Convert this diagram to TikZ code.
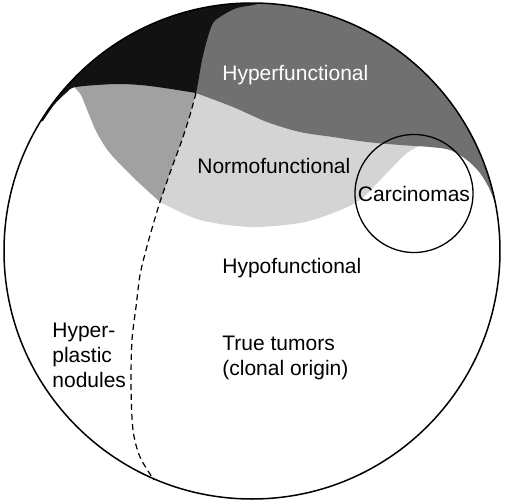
\documentclass[tikz,border=0pt]{standalone}
\usepackage{fontspec}
\setmainfont{Liberation Sans}
\begin{document}
\begin{tikzpicture}[x=0.5pt,y=-0.5pt,
    lbl/.style={anchor=base west,inner sep=0pt,align=left,font=\fontsize{10.5}{12.5}\selectfont},
    split/.style={dash pattern=on 3pt off 2pt,line width=0.6pt}]
  \useasboundingbox (0,0) rectangle (505,504);
  \begin{scope}
    \clip (252,251) circle (248);
    % normofunctional, true tumors
    \fill[black!17] (196,93) -- plot[smooth] coordinates {(196,93) (190,115) (182,140) (171,170) (160,202)}
      -- plot[smooth] coordinates {(160,202) (200,220) (250,227) (300,223) (333,213) (360,200) (383,177) (407,153) (428,142)}
      -- (428,110) -- (196,80) -- cycle;
    % normofunctional, hyperplastic
    \fill[black!37] plot[smooth] coordinates {(75,88) (81,95) (88,112) (96,131) (106,148) (117,161) (137,181) (160,202)}
      -- plot[smooth] coordinates {(160,202) (171,170) (182,140) (190,115) (196,93)}
      -- (196,75) -- (75,75) -- cycle;
    % hyperfunctional, true tumors
    \fill[black!56] plot[smooth] coordinates {(196,93) (233,107) (267,122) (300,132) (333,137) (367,142) (400,145) (430,147) (450,150) (467,160) (480,173) (490,190) (498,212)}
      -- (515,212) -- (515,-10) -- (180,-10) -- cycle;
    % hyperfunctional, hyperplastic
    \fill[black!93] plot[smooth] coordinates {(43,121) (54,105) (66,93) (76,87) (117,84) (150,86) (196,93)}
      -- plot[smooth] coordinates {(196,93) (198,83) (202,60) (207,40) (213,23) (223,15) (237,8) (257,4) (275,-5)}
      -- (0,-10) -- (0,121) -- cycle;
  \end{scope}
  \draw[split] plot[smooth] coordinates {(196,93) (190,115) (182,140) (171,170) (160,202) (153,225) (146,250) (140,275) (136,307) (132,340) (131,385) (133,430) (140,457) (154,480)};
  \node[lbl,text=white] (hyper) at (222,80) {Hyperfunctional};
  \node[lbl] (normo) at (197,173) {Normofunctional};
  \node[lbl] (hypo) at (222,273) {Hypofunctional};
  \node[lbl] (tumors) at (222,375) {True tumors\\(clonal origin)};
  \node[lbl] (nodules) at (52,387) {Hyper-\\plastic\\nodules};
  \node[draw,circle,minimum size=59pt,inner sep=0pt,line width=0.65pt,font=\fontsize{10.5}{12.5}\selectfont] (carci) at (414,193.5) {Carcinomas};
  \draw[line width=0.75pt] (252,251) circle (248);
\end{tikzpicture}
\end{document}
